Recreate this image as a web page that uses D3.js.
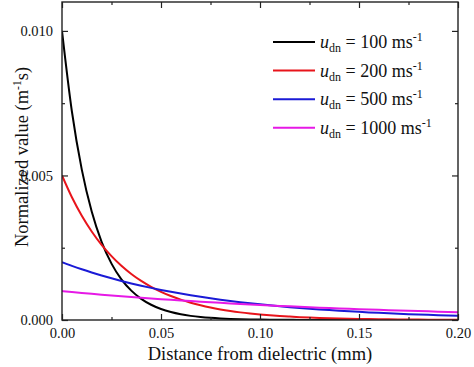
<!DOCTYPE html>
<html>
<head>
<meta charset="utf-8">
<script src="https://cdn.jsdelivr.net/npm/d3@7/dist/d3.min.js"></script>
<style>
html,body{margin:0;padding:0;background:#fff;}
svg{display:block;font-family:"Liberation Serif","Times New Roman",serif;}
</style>
</head>
<body>
<div id="chart"></div>
<script>
// Distance from dielectric (mm)
const xValues = [0,0.005,0.01,0.015,0.02,0.025,0.03,0.035,0.04,0.045,0.05,0.055,0.06,0.065,0.07,0.075,0.08,0.085,0.09,0.095,0.1,0.105,0.11,0.115,0.12,0.125,0.13,0.135,0.14,0.145,0.15,0.155,0.16,0.165,0.17,0.175,0.18,0.185,0.19,0.195,0.2];
const seriesU100 = [0.01,0.007212,0.005202,0.003752,0.002706,0.001951,0.001407,0.001015,0.000732,0.000528,0.000381,0.000275,0.000198,0.000143,0.000103,0.0000743,0.0000536,0.0000387,0.0000279,0.0000201,0.0000145,0.0000105,0.0000075,0.0000054,0.0000039,0.0000028,0.000002,0.0000015,0.000001,0.0000008,0.0000005,0.0000004,0.0000003,0.0000002,0.0000002,0.0000001,0.0000001,0.0000001,0.0000001,0,0];
const seriesU200 = [0.005,0.004246,0.003606,0.003062,0.002601,0.002209,0.001876,0.001593,0.001353,0.001149,0.000976,0.000829,0.000704,0.000598,0.000508,0.000431,0.000366,0.000311,0.000264,0.000224,0.00019,0.000162,0.000137,0.000117,0.0000991,0.0000841,0.0000715,0.0000607,0.0000515,0.0000438,0.0000372,0.0000316,0.0000268,0.0000228,0.0000193,0.0000164,0.000014,0.0000119,0.0000101,0.0000086,0.0000073];
const seriesU500 = [0.002,0.0018735,0.0017549,0.0016439,0.0015399,0.0014425,0.0013512,0.0012657,0.0011856,0.0011106,0.0010404,0.0009745,0.0009129,0.0008551,0.000801,0.0007504,0.0007029,0.0006584,0.0006167,0.0005777,0.0005412,0.0005069,0.0004749,0.0004448,0.0004167,0.0003903,0.0003656,0.0003425,0.0003208,0.0003005,0.0002815,0.0002637,0.000247,0.0002314,0.0002167,0.000203,0.0001902,0.0001782,0.0001669,0.0001563,0.0001464];
const seriesU1000 = [0.001,0.0009679,0.0009367,0.0009066,0.0008775,0.0008492,0.0008219,0.0007955,0.0007699,0.0007452,0.0007212,0.000698,0.0006756,0.0006539,0.0006329,0.0006125,0.0005928,0.0005738,0.0005553,0.0005375,0.0005202,0.0005035,0.0004873,0.0004716,0.0004564,0.0004418,0.0004276,0.0004138,0.0004005,0.0003876,0.0003752,0.0003631,0.0003514,0.0003401,0.0003292,0.0003186,0.0003084,0.0002985,0.0002889,0.0002796,0.0002706];
const seriesNames = ["100","200","500","1000"];
const seriesColors = ["#000000","#e8141b","#1a1ad6","#e619e6"];
const xTicks = [0,0.05,0.1,0.15,0.2];
const xTickLabels = ["0.00","0.05","0.10","0.15","0.20"];
const yTicks = [0,0.005,0.01];
const yTickLabels = ["0.000","0.005","0.010"];
const xMinor = [0.025,0.075,0.125,0.175];
const yMinor = [0.0025,0.0075];

(function(){
const W = 474, H = 367;
const L = 62, R = 458, T = 2, B = 320;
const svg = d3.select("#chart").append("svg").attr("width", W).attr("height", H);

const x = d3.scaleLinear().domain([0, 0.2]).range([L, R]);
const y = d3.scaleLinear().domain([0, 0.011]).range([B, T]);

const series = [seriesU100, seriesU200, seriesU500, seriesU1000];
const defs = svg.append("defs");
defs.append("clipPath").attr("id","clip").append("rect").attr("x",L).attr("y",T).attr("width",R-L).attr("height",B-T);

const line = d3.line().x((d,i)=>x(xValues[i])).y(d=>y(d)).curve(d3.curveMonotoneX);
const gLines = svg.append("g").attr("clip-path","url(#clip)");
series.forEach((s,k)=>{
  gLines.append("path").datum(s).attr("d", line).attr("fill","none")
    .attr("stroke", seriesColors[k]).attr("stroke-width", 2);
});

const axColor = "#222";
svg.append("g").attr("transform",`translate(0,${B})`)
  .call(d3.axisBottom(x).tickValues(xTicks).tickSize(-6).tickPadding(8).tickFormat((d,i)=>xTickLabels[i]));
svg.append("g").attr("transform",`translate(0,${B})`)
  .call(d3.axisBottom(x).tickValues(xMinor).tickSize(-3).tickFormat(""));
svg.append("g").attr("transform",`translate(0,${T})`)
  .call(d3.axisTop(x).tickValues(xTicks).tickSize(-6).tickFormat(""));
svg.append("g").attr("transform",`translate(0,${T})`)
  .call(d3.axisTop(x).tickValues(xMinor).tickSize(-3).tickFormat(""));
svg.append("g").attr("transform",`translate(${L},0)`)
  .call(d3.axisLeft(y).tickValues(yTicks).tickSize(-6).tickPadding(9).tickFormat((d,i)=>yTickLabels[i]));
svg.append("g").attr("transform",`translate(${L},0)`)
  .call(d3.axisLeft(y).tickValues(yMinor).tickSize(-3).tickFormat(""));
svg.append("g").attr("transform",`translate(${R},0)`)
  .call(d3.axisRight(y).tickValues(yTicks).tickSize(-6).tickFormat(""));
svg.append("g").attr("transform",`translate(${R},0)`)
  .call(d3.axisRight(y).tickValues(yMinor).tickSize(-3).tickFormat(""));

svg.selectAll(".domain").remove();
svg.selectAll(".tick line").attr("stroke", axColor).attr("stroke-width", 1.2);
svg.selectAll(".tick text").attr("font-family","Liberation Serif").attr("font-size", 14.5).attr("fill","#111");

svg.append("rect").attr("x",L).attr("y",T).attr("width",R-L).attr("height",B-T)
  .attr("fill","none").attr("stroke",axColor).attr("stroke-width",1.4);

svg.append("text").attr("x",(L+R)/2).attr("y",360).attr("text-anchor","middle")
  .attr("font-size",18.5).attr("fill","#111").text("Distance from dielectric (mm)");
const yt = svg.append("text").attr("transform",`translate(28,157) rotate(-90)`)
  .attr("text-anchor","middle").attr("font-size",18.5).attr("fill","#111");
yt.append("tspan").text("Normalized value (m");
yt.append("tspan").attr("font-size",11.5).attr("dy",-7).text("-1");
yt.append("tspan").attr("dy",7).text("s)");

const legY0 = 42, legDy = 28.6;
seriesNames.forEach((n,k)=>{
  const yy = legY0 + k*legDy;
  svg.append("line").attr("x1",273).attr("x2",315).attr("y1",yy).attr("y2",yy)
    .attr("stroke",seriesColors[k]).attr("stroke-width",2);
  const t = svg.append("text").attr("x",320).attr("y",yy+6).attr("font-size",18).attr("fill","#111");
  t.append("tspan").attr("font-style","italic").text("u");
  t.append("tspan").attr("font-size",12).attr("dy",4).text("dn");
  t.append("tspan").attr("dy",-4).text(" = " + n + " ms");
  t.append("tspan").attr("font-size",12).attr("dy",-7).text("-1");
});
})();
</script>
</body>
</html>
